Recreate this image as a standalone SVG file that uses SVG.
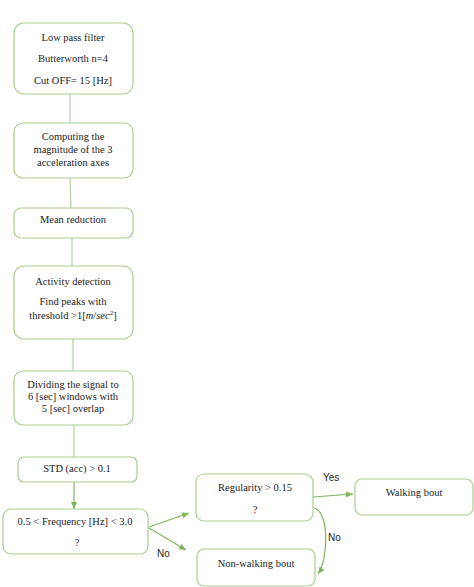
<svg xmlns="http://www.w3.org/2000/svg" width="474" height="587" viewBox="0 0 474 587">
<defs>
<style>
.box{fill:#fff;stroke:#a9cd8e;stroke-width:1.2}
.t{font-family:"Liberation Serif",serif;font-size:10.5px;fill:#222;text-anchor:middle}
.s{font-family:"Liberation Sans",sans-serif;font-size:10px;fill:#222}
.ln{stroke:#b3d39c;stroke-width:1.2;fill:none}
.ar{stroke:#7eb65a;stroke-width:1.2;fill:none}
</style>
<marker id="ah" markerWidth="8" markerHeight="8" refX="7" refY="4" orient="auto" markerUnits="userSpaceOnUse">
<path d="M0,1 L7,4 L0,7 Z" fill="#7eb65a"/>
</marker>
</defs>
<rect width="474" height="587" fill="#fff"/>
<g id="connectors">
<line class="ln" x1="70" y1="94" x2="70" y2="123"/>
<line class="ln" x1="70" y1="178" x2="71" y2="208"/>
<line class="ln" x1="72" y1="238" x2="72" y2="266"/>
<line class="ln" x1="73" y1="339" x2="73" y2="371"/>
<line class="ln" x1="74" y1="425" x2="74" y2="457"/>
<line class="ar" x1="74" y1="482" x2="74" y2="509" marker-end="url(#ah)"/>
<line class="ar" x1="149" y1="527" x2="189" y2="513" marker-end="url(#ah)"/>
<line class="ar" x1="149" y1="528" x2="186" y2="550" marker-end="url(#ah)"/>
<line class="ar" x1="313" y1="497" x2="353" y2="494" marker-end="url(#ah)"/>
<path class="ar" d="M314,508 C330,512 328,560 318,574" marker-end="url(#ah)"/>
<text class="s" x="323" y="481">Yes</text>
<text class="s" x="328" y="541">No</text>
<text class="s" x="157" y="557">No</text>
</g>
<g id="n1"><rect class="box" x="14" y="23" width="119" height="71" rx="10"/>
<text class="t" x="73" y="41">Low pass filter</text>
<text class="t" x="73" y="62">Butterworth n=4</text>
<text class="t" x="73" y="84">Cut OFF= 15 [Hz]</text></g>
<g id="n2"><rect class="box" x="14" y="123" width="119" height="55" rx="9"/>
<text class="t" x="73" y="140">Computing the</text>
<text class="t" x="73" y="153">magnitude of the 3</text>
<text class="t" x="73" y="166">acceleration axes</text></g>
<g id="n3"><rect class="box" x="14" y="208" width="119" height="30" rx="7"/>
<text class="t" x="73" y="223">Mean reduction</text></g>
<g id="n4"><rect class="box" x="14" y="266" width="119" height="73" rx="10"/>
<text class="t" x="73" y="285">Activity detection</text>
<text class="t" x="73" y="305">Find peaks with</text>
<text class="t" x="73" y="319">threshold &gt;1[<tspan font-style="italic">m</tspan>/<tspan font-style="italic">sec</tspan><tspan font-size="7" dy="-4">2</tspan><tspan dy="4">]</tspan></text></g>
<g id="n5"><rect class="box" x="14" y="371" width="119" height="54" rx="9"/>
<text class="t" x="73" y="388">Dividing the signal to</text>
<text class="t" x="73" y="400">6 [sec] windows with</text>
<text class="t" x="73" y="412">5 [sec] overlap</text></g>
<g id="n6"><rect class="box" x="18" y="457" width="119" height="25" rx="6"/>
<text class="t" x="77" y="472">STD (acc) &gt; 0.1</text></g>
<g id="n7"><rect class="box" x="3" y="509" width="145" height="45" rx="8"/>
<text class="t" x="75" y="525">0.5 &lt; Frequency [Hz] &lt; 3.0</text>
<text class="t" x="77" y="546">?</text></g>
<g id="n8"><rect class="box" x="196" y="474" width="117" height="47" rx="8"/>
<text class="t" x="255" y="491">Regularity &gt; 0.15</text>
<text class="t" x="255" y="513">?</text></g>
<g id="n9"><rect class="box" x="355" y="479" width="118" height="36" rx="7"/>
<text class="t" x="414" y="496">Walking bout</text></g>
<g id="n10"><rect class="box" x="197" y="549" width="118" height="37" rx="7"/>
<text class="t" x="256" y="567">Non-walking bout</text></g>
</svg>
